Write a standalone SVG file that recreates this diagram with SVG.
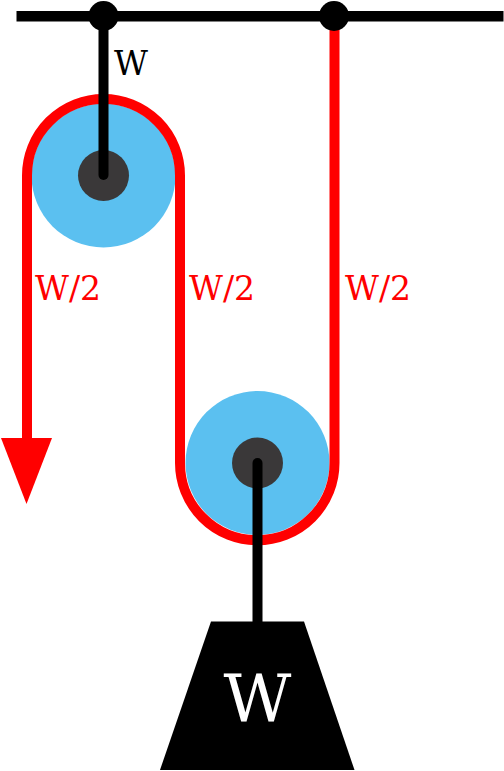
<svg xmlns="http://www.w3.org/2000/svg" width="504" height="771" viewBox="0 0 504 771">
<style>
text{font-family:"DejaVu Serif",serif}
.pulley{fill:#5bc0f0}
.hub{fill:#3a3839}
.red{fill:none;stroke:#f00;stroke-width:10}
.black{fill:none;stroke:#000;stroke-width:10;stroke-linecap:round}
.lab{font-size:33px;fill:#f00}
</style>
<rect width="504" height="771" fill="#fff"/>
<g id="pulley-top"><circle class="pulley" cx="103.5" cy="175.5" r="72"/><circle class="hub" cx="103.5" cy="175.5" r="25.5"/></g>
<g id="pulley-bottom"><circle class="pulley" cx="257.5" cy="463" r="72"/><circle class="hub" cx="257.5" cy="463" r="25.5"/></g>
<g id="connectors">
<path class="red" d="M27 445V175.5A76.5 76.5 0 0 1 180 175.5V463A77 77 0 0 0 334.500 463V16"/>
<path d="M1 438H52L26.500 504Z" fill="#f00"/>
<path class="black" d="M103.500 16V175"/>
<path class="black" d="M257.500 463V630"/>
<path d="M16.500 16.300H503.500" stroke="#000" stroke-width="10.500" fill="none"/>
</g>
<g id="anchor-left"><circle cx="103.500" cy="16" r="15"/></g>
<g id="anchor-right"><circle cx="334" cy="16" r="15"/></g>
<g id="weight"><path d="M211 621.500H304L354.500 770H160Z"/><text x="257.500" y="721" font-size="66" fill="#fff" text-anchor="middle">W</text></g>
<g id="labels">
<text x="114" y="75" font-size="33">W</text>
<text class="lab" x="35" y="299.500">W/2</text>
<text class="lab" x="189" y="299.500">W/2</text>
<text class="lab" x="345" y="299.500">W/2</text>
</g>
</svg>
